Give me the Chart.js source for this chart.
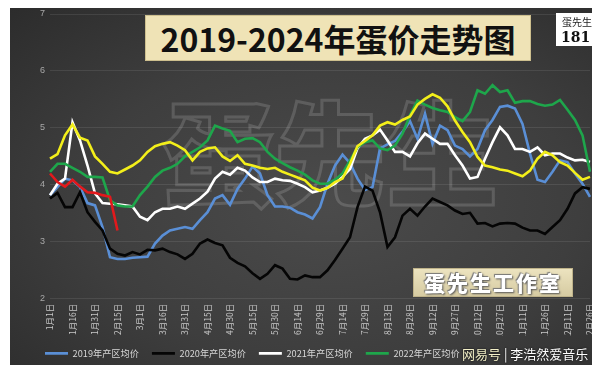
<!DOCTYPE html>
<html>
<head>
<meta charset="utf-8">
<script src="https://cdn.jsdelivr.net/npm/chart.js@4.4.0/dist/chart.umd.min.js"></script>
<style>
  html, body { margin: 0; padding: 0; background: #fff; }
  body { width: 600px; height: 372px; position: relative; overflow: hidden;
         font-family: "Noto Sans CJK SC", "Noto Sans", sans-serif; }
  #panel { position: absolute; left: 10px; top: 8px; width: 582px; height: 357px; overflow: hidden;
           background: radial-gradient(ellipse at 55% 55%, #4b4b4b 0%, #3e3e3e 55%, #2c2c2c 100%); }
  #ghost { position: absolute; left: 152px; top: 84px; font-size: 112px; font-weight: 900; line-height: 1;
           color: transparent; -webkit-text-stroke: 3px rgba(205,205,205,0.2); white-space: nowrap; }
  #wrap { position: absolute; left: 0; top: 0; width: 600px; height: 362px; }
  #title { position: absolute; left: 135px; top: 7px; width: 386px; height: 46px; background: #efe3b6;
           border: 1px solid #cdbf8e; box-sizing: border-box; text-align: center; white-space: nowrap;
           font-size: 32px; font-weight: 700; line-height: 44px; color: #111; }
  #badge { position: absolute; left: 546px; top: 5px; width: 60px; height: 33px; background: #fff; }
  #badge .a { position: absolute; left: 6px; top: 3px; font-size: 10px; line-height: 11px; color: #222; }
  #badge .b { position: absolute; left: 5px; top: 17px; font-size: 14px; font-weight: 700; line-height: 14px;
              font-family: "DejaVu Serif", serif; color: #111; }
  #studio { position: absolute; left: 403px; top: 260px; width: 160px; height: 29px; box-sizing: border-box;
            background: linear-gradient(#ece3bf, #d6cba2); border: 1px solid #bfb38a; text-align: center;
            font-size: 21px; font-weight: 900; line-height: 27px; color: #fff; letter-spacing: 2px;
            text-shadow: 1px 1px 2px #555, -1px -1px 1px #777; }
  #mark { position: absolute; left: 452px; top: 337px; font-size: 13px; line-height: 17px; color: #fff;
          white-space: nowrap; text-shadow: 0 0 2px #000; }
  #mark span { color: #f3f0c8; }
</style>
</head>
<body>
<div id="panel">
  <div id="ghost">蛋先生</div>
  <div id="wrap"><canvas id="eggChart" width="600" height="362"></canvas></div>
  <div id="title">2019-2024年蛋价走势图</div>
  <div id="badge"><div class="a">蛋先生</div><div class="b">181</div></div>
  <div id="studio">蛋先生工作室</div>
  <div id="mark"><span>网易号</span> | 李浩然爱音乐</div>
</div>
<script>
// every 5 days, leap-year calendar as in the original
var categories = [
  '1月1日','1月6日','1月11日','1月16日','1月21日','1月26日','1月31日',
  '2月5日','2月10日','2月15日','2月20日','2月25日',
  '3月1日','3月6日','3月11日','3月16日','3月21日','3月26日','3月31日',
  '4月5日','4月10日','4月15日','4月20日','4月25日','4月30日',
  '5月5日','5月10日','5月15日','5月20日','5月25日','5月30日',
  '6月4日','6月9日','6月14日','6月19日','6月24日','6月29日',
  '7月4日','7月9日','7月14日','7月19日','7月24日','7月29日',
  '8月3日','8月8日','8月13日','8月18日','8月23日','8月28日',
  '9月2日','9月7日','9月12日','9月17日','9月22日','9月27日',
  '10月2日','10月7日','10月12日','10月17日','10月22日','10月27日',
  '11月1日','11月6日','11月11日','11月16日','11月21日','11月26日',
  '12月1日','12月6日','12月11日','12月16日','12月21日','12月26日'
];
var yTicks = [2, 3, 4, 5, 6, 7];

var price2019 = [3.82,3.96,4.11,4.08,3.96,3.68,3.64,3.26,2.73,2.70,2.70,2.72,2.73,2.74,2.97,3.11,3.20,3.23,3.26,3.23,3.38,3.52,3.76,3.82,3.65,
  3.93,4.11,4.32,4.20,3.82,3.62,3.62,3.60,3.52,3.48,3.41,3.61,4.02,4.34,4.53,4.38,4.11,3.91,3.96,4.64,4.71,4.77,4.93,5.12,
  4.81,5.25,4.72,5.04,4.96,4.69,4.63,4.50,4.63,4.96,5.14,5.37,5.39,5.34,5.07,4.55,4.09,4.05,4.23,4.43,4.40,4.20,4.02,3.79];
var price2020 = [3.76,3.86,3.61,3.61,3.87,3.52,3.35,3.20,2.88,2.79,2.76,2.82,2.78,2.86,2.85,2.88,2.82,2.78,2.70,2.79,2.97,3.04,2.98,2.94,2.72,
  2.63,2.57,2.45,2.35,2.44,2.59,2.53,2.35,2.34,2.41,2.38,2.38,2.50,2.68,2.88,3.08,3.61,3.97,3.90,3.52,2.91,3.08,3.46,3.58,
  3.46,3.62,3.76,3.70,3.64,3.55,3.49,3.51,3.32,3.33,3.27,3.32,3.33,3.32,3.25,3.20,3.20,3.14,3.26,3.38,3.58,3.85,3.96,3.93];
var price2021 = [3.82,4.02,4.11,5.10,4.78,4.34,3.85,3.68,3.67,3.66,3.64,3.62,3.44,3.38,3.52,3.58,3.58,3.62,3.58,3.67,3.76,3.88,4.11,4.23,4.18,
  4.30,4.25,4.13,4.05,4.05,4.11,4.08,4.07,4.02,3.96,3.87,3.90,3.95,4.02,4.14,4.28,4.64,4.81,4.87,4.97,4.78,4.58,4.58,4.50,
  4.73,4.90,4.81,4.72,4.72,4.52,4.34,4.11,4.14,4.46,4.75,5.01,4.87,4.63,4.63,4.58,4.66,4.52,4.55,4.55,4.48,4.43,4.44,4.40];
var price2022 = [4.23,4.37,4.37,4.30,4.23,4.14,4.14,4.13,3.73,3.64,3.62,3.62,3.82,3.97,4.14,4.25,4.30,4.37,4.50,4.58,4.66,4.78,5.04,4.99,4.95,
  4.75,4.81,4.82,4.75,4.58,4.46,4.38,4.31,4.25,4.18,4.08,4.02,4.02,4.09,4.20,4.43,4.66,4.75,4.78,4.64,4.61,4.69,4.90,5.22,
  5.48,5.41,5.35,5.31,5.28,5.19,5.12,5.28,5.66,5.60,5.75,5.63,5.66,5.44,5.47,5.47,5.42,5.39,5.41,5.49,5.32,5.14,4.87,4.23];
var price2023 = [4.46,4.54,4.87,5.06,4.83,4.78,4.50,4.37,4.23,4.20,4.27,4.34,4.43,4.58,4.68,4.72,4.75,4.69,4.61,4.43,4.58,4.64,4.66,4.50,4.42,
  4.52,4.37,4.34,4.30,4.28,4.30,4.23,4.18,4.13,4.08,3.95,3.90,3.95,4.05,4.11,4.37,4.68,4.77,4.87,5.04,5.10,5.06,5.14,5.20,
  5.41,5.51,5.59,5.53,5.38,5.13,4.93,4.75,4.49,4.34,4.31,4.27,4.25,4.20,4.15,4.25,4.46,4.58,4.52,4.40,4.34,4.21,4.09,4.14];
var price2024 = [4.20,4.05,3.97,4.09,3.97,3.87,3.86,3.82,3.79,3.20];

function series(label, data, color) {
  return { label: label, data: data, borderColor: color, backgroundColor: color,
           borderWidth: 2.6, pointRadius: 0, tension: 0, fill: false };
}

// first dataset is drawn on top
var ctx = document.getElementById('eggChart').getContext('2d');
var chart = new Chart(ctx, {
  type: 'line',
  data: {
    labels: categories,
    datasets: [
      series('2024年产区均价', price2024, '#e2191c'),
      series('2023年产区均价', price2023, '#f3ef1a'),
      series('2022年产区均价', price2022, '#1ea64b'),
      series('2021年产区均价', price2021, '#ffffff'),
      series('2020年产区均价', price2020, '#050505'),
      series('2019年产区均价', price2019, '#5a8fd6')
    ]
  },
  options: {
    responsive: false,
    animation: false,
    layout: { padding: { left: 22, right: 20, top: 6, bottom: 2 } },
    plugins: {
      tooltip: { enabled: false },
      legend: {
        position: 'bottom',
        align: 'start',
        labels: {
          usePointStyle: true,
          pointStyle: 'line',
          pointStyleWidth: 23,
          color: '#d6d6d6',
          padding: 13,
          font: { size: 9.2, family: '"Noto Sans CJK SC", sans-serif' },
          filter: function (item) { return item.datasetIndex >= 2; },
          sort: function (a, b) { return b.datasetIndex - a.datasetIndex; }
        }
      }
    },
    scales: {
      x: {
        afterFit: function (scale) { scale.height = 37; },
        grid: { display: false, drawTicks: false },
        border: { display: false },
        ticks: {
          autoSkip: false, minRotation: 90, maxRotation: 90, padding: 5,
          color: '#c8c8c8', font: { size: 8.5, family: '"Noto Sans CJK SC", sans-serif' },
          callback: function (v, i) { return i % 3 === 0 ? categories[i] : ''; }
        }
      },
      y: {
        min: yTicks[0], max: yTicks[yTicks.length - 1],
        afterBuildTicks: function (axis) { axis.ticks = yTicks.map(function (v) { return { value: v }; }); },
        afterFit: function (scale) { scale.width = 18; scale.paddingTop = 0; scale.paddingBottom = 0; },
        grid: { color: 'rgba(255,255,255,0.09)', drawTicks: false },
        border: { display: false },
        ticks: { padding: 5, color: '#a8a8a8', font: { size: 9 } }
      }
    }
  }
});
</script>
</body>
</html>
